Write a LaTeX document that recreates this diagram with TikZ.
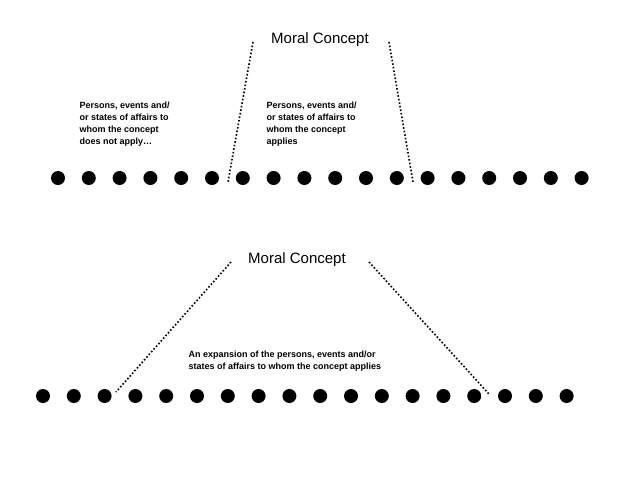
\documentclass[tikz,border=0pt]{standalone}
\usepackage{fontspec}
\setmainfont{Liberation Sans}
\usetikzlibrary{positioning}
\begin{document}
\begin{tikzpicture}[x=1pt,y=-1pt,
	dot/.style = {circle, fill, inner sep=0pt, minimum size=14pt},
	title/.style = {font=\fontsize{15}{17}\selectfont},
	note/.style = {font=\bfseries\fontsize{9}{12}\selectfont, align=left, anchor=north west},
	link/.style = {line width=1.6pt, dotted}]

	% márgenes
	\useasboundingbox (0,0) rectangle (640,480);

	% fila superior
	\foreach \i in {0,...,17}
		\node[dot] (t\i) at ({58+\i*30.8},178) {};
	% fila inferior
	\foreach \i in {0,...,17}
		\node[dot] (b\i) at ({43+\i*30.8},396) {};

	% concepto superior
	\node[title] (mc1) at (320,40) {Moral Concept};
	\coordinate (t1a) at (253,42);
	\coordinate (t1b) at (228,182);
	\coordinate (t2a) at (389,42);
	\coordinate (t2b) at (413,182);
	\draw[link] (t1a) -- (t1b);
	\draw[link] (t2a) -- (t2b);

	\node[note] (out) at (76,98) {Persons, events and/\\or states of affairs to\\whom the concept\\does not apply\ldots};
	\node[note] (in) at (263,98) {Persons, events and/\\or states of affairs to\\whom the concept\\applies};

	% concepto inferior
	\node[title] (mc2) at (297,260) {Moral Concept};
	\coordinate (b1a) at (231,262);
	\coordinate (b1b) at (116,392);
	\coordinate (b2a) at (369,262);
	\coordinate (b2b) at (489,394);
	\draw[link] (b1a) -- (b1b);
	\draw[link] (b2a) -- (b2b);

	\node[note] (exp) at (185,347) {An expansion of the persons, events and/or\\states of affairs to whom the concept applies};

\end{tikzpicture}
\end{document}
